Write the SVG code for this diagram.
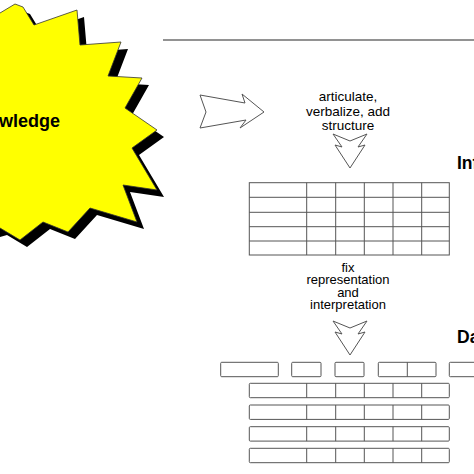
<svg xmlns="http://www.w3.org/2000/svg" width="474" height="474" viewBox="0 0 474 474">
<style>
.lbl{font-family:"Liberation Sans",Arial,sans-serif;font-size:13.5px;fill:#000;text-anchor:middle}
.lbl2{font-family:"Liberation Sans",Arial,sans-serif;font-size:13px;fill:#000;text-anchor:middle}
.ttl{font-family:"Liberation Sans",Arial,sans-serif;font-size:17.5px;font-weight:bold;fill:#000}
.cell{fill:#fff;stroke:#555;stroke-width:1}
.grid{stroke:#555;stroke-width:1;fill:none}
.arr{fill:#fff;stroke:#555;stroke-width:1;stroke-linejoin:miter}
</style>
<defs>
<polygon id="burst" points="-40,25 0,13 15,4 23,7 34,25 77,10 80,45 121,42 108,76 142,78 125,108 157,130 132,148 157,190 123,185 137,222 90,208 68,232 43,222 20,240 0,228 -40,240 -60,120"/>
<g id="row">
<rect class="cell" x="249.3" y="0" width="200" height="14.4" rx="1"/>
<path class="grid" d="M306.7,0V14.4M335.7,0V14.4M364.3,0V14.4M393,0V14.4M421.7,0V14.4"/>
</g>
<polygon id="darr" points="333,0 350,7 367,0 358,13 365,11 350,34 335,11 342,13"/>
</defs>
<g id="knowledge">
<use href="#burst" transform="translate(7,7)" fill="#000"/>
<use href="#burst" fill="#ffff00" stroke="#333" stroke-width="0.8"/>
<text class="ttl" x="60" y="127" text-anchor="end" style="font-size:18px">Knowledge</text>
</g>
<line x1="163" y1="40" x2="474" y2="40" stroke="#6e6e6e" stroke-width="1.6"/>
<g id="connectors">
<polygon class="arr" points="200,95 245,103 242,94 264,112 240,128 246,120 200,128 206,112"/>
<use href="#darr" class="arr" transform="translate(0,134)"/>
<use href="#darr" class="arr" transform="translate(0,321)"/>
</g>
<g id="label-articulate">
<text class="lbl" x="348" y="101">articulate,</text>
<text class="lbl" x="348" y="115.5">verbalize, add</text>
<text class="lbl" x="348" y="130">structure</text>
</g>
<g id="information">
<rect class="cell" x="249.3" y="182.7" width="200" height="72.3"/>
<path class="grid" d="M249.3,197.3H449.3M249.3,212.3H449.3M249.3,226.7H449.3M249.3,241H449.3M306.7,182.7V255M335.7,182.7V255M364.3,182.7V255M393,182.7V255M421.7,182.7V255"/>
<text class="ttl" x="457" y="169">Information</text>
</g>
<g id="label-fix">
<text class="lbl2" x="348" y="271.5">fix</text>
<text class="lbl2" x="348" y="284">representation</text>
<text class="lbl2" x="348" y="296.5">and</text>
<text class="lbl2" x="348" y="309">interpretation</text>
</g>
<g id="data">
<rect class="cell" x="220.7" y="362.3" width="57.6" height="14.4" rx="1"/>
<rect class="cell" x="291.7" y="362.3" width="29.3" height="14.4" rx="1"/>
<rect class="cell" x="335" y="362.3" width="29" height="14.4" rx="1"/>
<rect class="cell" x="378.3" y="362.3" width="57.7" height="14.4" rx="1"/>
<line class="grid" x1="407.3" y1="362.3" x2="407.3" y2="376.7"/>
<rect class="cell" x="449.3" y="362.3" width="40" height="14.4" rx="1"/>
<use href="#row" y="383.3"/>
<use href="#row" y="405"/>
<use href="#row" y="426.7"/>
<use href="#row" y="448.3"/>
<text class="ttl" x="457" y="343">Data</text>
</g>
</svg>
